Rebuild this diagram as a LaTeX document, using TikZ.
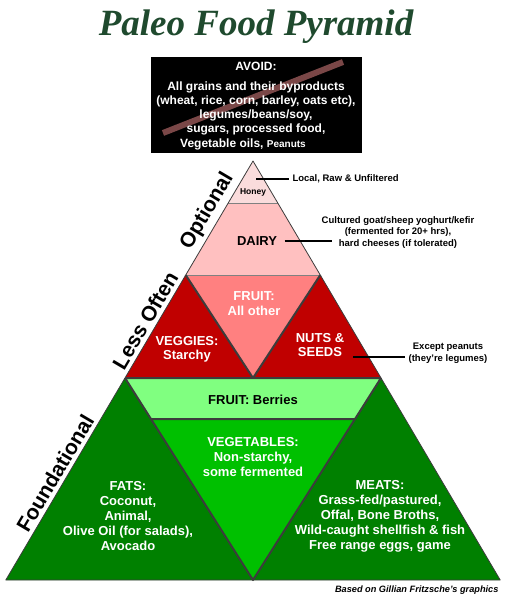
\documentclass[tikz,border=0pt]{standalone}
\usepackage{fontspec}
\setmainfont{Liberation Sans}
\newfontfamily\titlefont{Liberation Serif}
\usetikzlibrary{calc}

\definecolor{titlegreen}{HTML}{1F4A2E}
\definecolor{slash}{HTML}{7A4747}
\definecolor{edgegray}{HTML}{3C3C3C}
\definecolor{honey}{HTML}{FADCDC}
\definecolor{dairy}{HTML}{FFC0C0}
\definecolor{fruitpink}{HTML}{FF8080}
\definecolor{redtier}{HTML}{C00000}
\definecolor{berries}{HTML}{80FF80}
\definecolor{veggreen}{HTML}{00C000}
\definecolor{darkgreen}{HTML}{008000}

\begin{document}
\begin{tikzpicture}[x=1pt, y=-1pt,
  outline/.style={draw=edgegray, line width=0.8pt, line join=round},
  seam/.style={draw=edgegray, line width=2pt, line join=round},
  thinseam/.style={draw=gray, line width=0.7pt},
  lbl/.style={font=\bfseries\fontsize{13}{15}\selectfont, align=center, text=white},
  note/.style={font=\bfseries\fontsize{9.5}{11.5}\selectfont, align=center},
  side/.style={font=\bfseries\fontsize{21}{21}\selectfont, sloped, above, inner sep=4pt},
  lead/.style={line width=1.3pt},
]
\useasboundingbox (0,0) rectangle (512,600);

% title
\node[font=\titlefont\bfseries\itshape\fontsize{37}{37}\selectfont, text=titlegreen, anchor=base] (title) at (256,35) {Paleo Food Pyramid};

% avoid box
\node[fill=black, minimum width=211pt, minimum height=96pt, inner sep=0pt] (avoidbox) at (256.5,105) {};
\draw[slash, line width=6pt] (163,133) -- (343,62);
\node[text=white, align=center, font=\bfseries\fontsize{12}{14}\selectfont] (avoid) at (256,98.5)
  {AVOID:\\[6pt] All grains and their byproducts\\(wheat, rice, corn, barley, oats etc),\\legumes/beans/soy,\\sugars, processed food,};
\node[text=white, font=\bfseries\fontsize{12}{14}\selectfont] (avoidlast) at (243,144)
  {Vegetable oils, {\fontsize{10}{12}\selectfont Peanuts}};

% pyramid corners
\coordinate (apex) at (253,161);
\coordinate (h1) at (228.2,203);
\coordinate (h2) at (277.8,203);
\coordinate (d1) at (185.7,275);
\coordinate (d2) at (320.3,275);
\coordinate (m1) at (125,378);
\coordinate (m2) at (381,378);
\coordinate (mc) at (253,378);
\coordinate (bl) at (151,419);
\coordinate (br) at (355,419);
\coordinate (b1) at (5.8,580);
\coordinate (b2) at (500.2,580);
\coordinate (bc) at (253,580);

% tiers
\fill[honey] (apex) -- (h2) -- (h1) -- cycle;
\fill[dairy] (h1) -- (h2) -- (d2) -- (d1) -- cycle;
\fill[fruitpink] (d1) -- (d2) -- (mc) -- cycle;
\fill[redtier] (m1) -- (d1) -- (mc) -- cycle;
\fill[redtier] (mc) -- (d2) -- (m2) -- cycle;
\fill[berries] (m1) -- (m2) -- (br) -- (bl) -- cycle;
\fill[veggreen] (bl) -- (br) -- (bc) -- cycle;
\fill[darkgreen] (b1) -- (m1) -- (bc) -- cycle;
\fill[darkgreen] (bc) -- (m2) -- (b2) -- cycle;

\draw[thinseam] (h1) -- (h2) (d1) -- (d2);
\draw[seam] (d1) -- (mc) -- (d2) (m1) -- (m2) (m1) -- (bc) -- (m2) (bl) -- (br);
\draw[outline] (apex) -- (b2) -- (b1) -- cycle;

% tier labels
\node[font=\bfseries\fontsize{8.5}{10}\selectfont] (honeylbl) at (253,192) {Honey};
\node[lbl, text=black] (dairylbl) at (257,241) {DAIRY};
\node[lbl] (fruitother) at (254,304) {FRUIT:\\All other};
\node[lbl, font=\bfseries\fontsize{13}{14}\selectfont] (veggies) at (187,349) {VEGGIES:\\Starchy};
\node[lbl, font=\bfseries\fontsize{13}{14}\selectfont] (nuts) at (320,345) {NUTS \&\\SEEDS};
\node[lbl, text=black] (berrieslbl) at (253,400) {FRUIT: Berries};
\node[lbl] (veglbl) at (253,457) {VEGETABLES:\\Non-starchy,\\some fermented};
\node[lbl] (fats) at (128,516.5) {FATS:\\Coconut,\\Animal,\\Olive Oil (for salads),\\Avocado};
\node[lbl] (meats) at (380,516) {MEATS:\\Grass-fed/pastured,\\Offal, Bone Broths,\\Wild-caught shellfish \& fish\\Free range eggs, game};

% side labels
\path (d1) -- (apex) node[side, midway] (optional) {Optional};
\path (m1) -- (d1) node[side, midway] (lessoften) {Less Often};
\path (b1) -- (m1) node[side, midway] (foundational) {Foundational};

% notes
\node[note, anchor=west] (honeynote) at (289,179) {Local, Raw \& Unfiltered};
\coordinate (honeytip) at (256,179);
\draw[lead] (honeytip) -- (honeynote);

\node[note] (dairynote) at (398,232.5) {Cultured goat/sheep yoghurt/kefir\\(fermented for 20+ hrs),\\hard cheeses (if tolerated)};
\coordinate (dairyend) at (332,241);
\draw[lead] ([xshift=4pt]dairylbl.east) -- (dairyend);

\node[note] (nutsnote) at (448,353) {Except peanuts\\(they're legumes)};
\coordinate (nutsstart) at (353,357);
\draw[lead] (nutsstart) -- (nutsnote.west |- nutsstart);

% credit
\node[font=\bfseries\itshape\fontsize{9.2}{11}\selectfont, anchor=east] (credit) at (502,590) {Based on Gillian Fritzsche's graphics};
\end{tikzpicture}
\end{document}
